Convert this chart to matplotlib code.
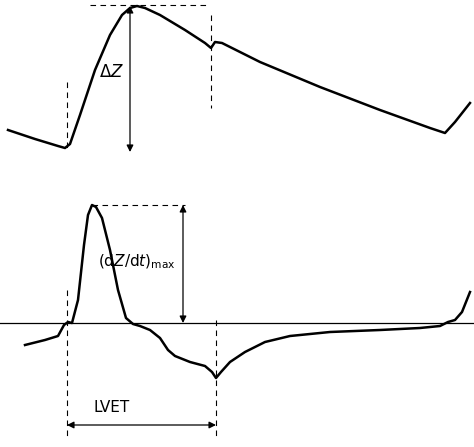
import matplotlib.pyplot as plt
import numpy as np

# impedance curve (pixel coords)
zx = [8, 35, 58, 65, 70, 80, 95, 110, 122, 130, 137, 145, 160, 185, 205, 211, 215, 222, 260, 320, 380, 430, 445, 455, 470]
zy = [130, 139, 146, 148, 144, 115, 70, 35, 15, 8, 6, 8, 15, 30, 43, 48, 42, 43, 62, 87, 110, 128, 133, 122, 103]
# derivative curve
dx = [25, 45, 58, 64, 68, 72, 78, 84, 88, 92, 96, 102, 110, 118, 126, 133, 140, 150, 160, 168, 175, 190, 205, 212, 216, 221, 230, 245, 265, 290, 330, 380, 420, 440, 448, 455, 462, 470]
dy = [345, 340, 336, 325, 322, 323, 300, 245, 215, 205, 207, 218, 250, 290, 318, 324, 326, 330, 338, 350, 356, 362, 366, 372, 378, 372, 362, 352, 342, 336, 332, 330, 328, 326, 322, 320, 312, 292]

fig = plt.figure(figsize=(4.74, 4.47), dpi=100)
ax = fig.add_axes([0, 0, 1, 1])
ax.set_xlim(0, 474)
ax.set_ylim(447, 0)
ax.axis('off')

ax.plot(zx, zy, color='black', lw=1.8)
ax.plot(dx, dy, color='black', lw=1.8)
ax.plot([0, 474], [323, 323], color='black', lw=0.9)

dash = dict(color='black', lw=0.8, ls=(0, (5, 4)))
ax.plot([67, 67], [82, 150], **dash)
ax.plot([90, 210], [5, 5], **dash)
ax.plot([211, 211], [15, 108], **dash)
ax.plot([92, 185], [205, 205], **dash)
ax.plot([67, 67], [290, 440], **dash)
ax.plot([216, 216], [320, 440], **dash)

arr = dict(arrowstyle='<|-|>', color='black', lw=0.9, mutation_scale=10, shrinkA=0, shrinkB=0)
ax.annotate('', xy=(130, 6), xytext=(130, 152), arrowprops=arr)
ax.annotate('', xy=(183, 205), xytext=(183, 323), arrowprops=arr)
ax.annotate('', xy=(67, 425), xytext=(216, 425), arrowprops=arr)

ax.text(124, 72, r'$\Delta Z$', fontsize=12, ha='right', va='center')
ax.text(176, 262, r'(d$Z$/d$t$)$_{\rm max}$', fontsize=11, ha='right', va='center')
ax.text(112, 407, 'LVET', fontsize=11, ha='center', va='center')

fig.savefig('out.png')
